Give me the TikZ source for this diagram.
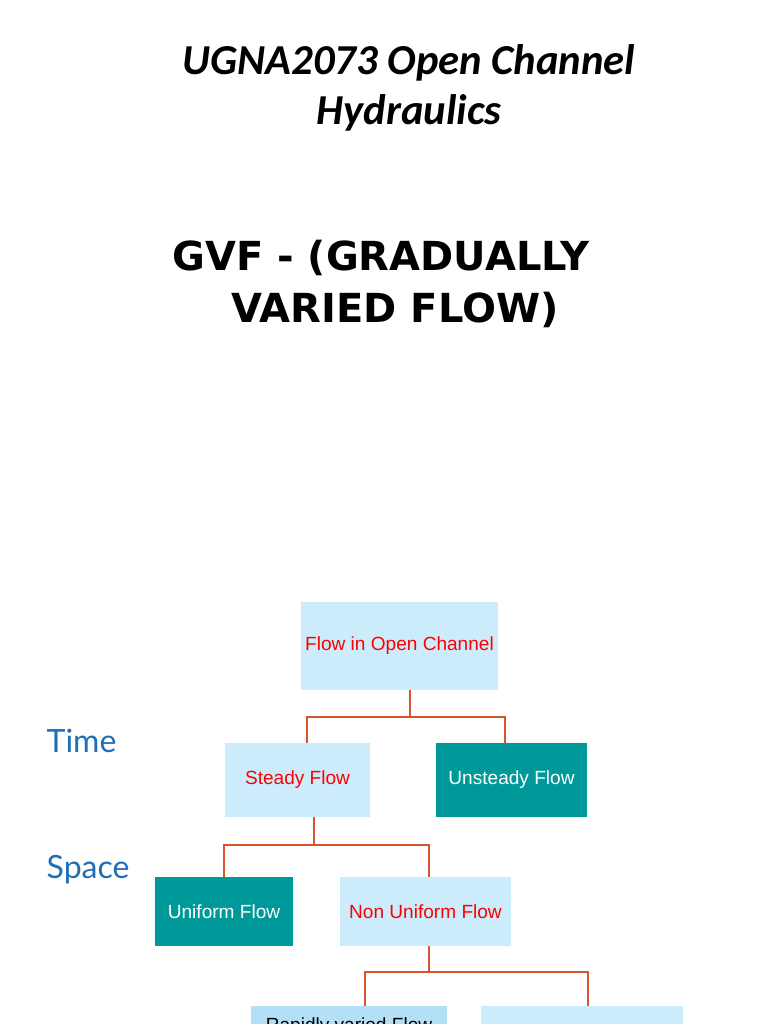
\documentclass[tikz,border=0pt]{standalone}
\usepackage{fontspec}
\setmainfont{Liberation Sans}
\newfontfamily\titlefont{Carlito}
\newfontfamily\gvffont{DejaVu Sans}
\newfontfamily\labfont{Lato}
\definecolor{lb}{HTML}{CCEBFB}
\definecolor{lb2}{HTML}{B3E0F7}
\definecolor{teal2}{HTML}{009999}
\definecolor{ln}{HTML}{D9542B}
\definecolor{tb}{HTML}{1F6FB5}
\tikzset{
 box/.style={draw=none,fill=lb,text=red,font=\fontsize{14.3}{17}\selectfont,inner sep=0pt},
 tbox/.style={draw=none,fill=teal2,text=white,font=\fontsize{14.3}{17}\selectfont,inner sep=0pt},
 conn/.style={draw=ln,line width=1pt},
 lab/.style={text=tb,font=\labfont\fontsize{24}{26}\selectfont,anchor=west}
}
\begin{document}
\begin{tikzpicture}[x=0.75pt,y=-0.75pt]
\clip (0,0) rectangle (768,1024);
\fill[white] (0,0) rectangle (768,1024);
\node[font=\titlefont\bfseries\itshape\fontsize{32}{37}\selectfont,align=center] (title) at (409,88) {UGNA2073 Open Channel\\Hydraulics};
\node[font=\gvffont\bfseries\fontsize{30}{39}\selectfont,align=center] (gvf) at (381,284) {GVF - (GRADUALLY\\\ \ VARIED FLOW)};
\node[lab] (time) at (42,741) {Time};
\node[lab] (space) at (42,870) {Space};
\node[box,minimum width=197*0.75pt,minimum height=88*0.75pt] (root) at (399.5,646) {Flow in Open Channel};
\node[box,minimum width=145*0.75pt,minimum height=74*0.75pt] (steady) at (297.5,780) {Steady Flow};
\node[tbox,minimum width=151*0.75pt,minimum height=74*0.75pt] (unsteady) at (511.5,780) {Unsteady Flow};
\node[tbox,minimum width=138*0.75pt,minimum height=69*0.75pt] (uniform) at (224,911.5) {Uniform Flow};
\node[box,minimum width=171*0.75pt,minimum height=69*0.75pt] (nonuni) at (425.5,911.5) {Non Uniform Flow};
\node[box,fill=lb2,text=black,minimum width=196*0.75pt,minimum height=60*0.75pt] (rapid) at (349,1036) {};
\node[text=black,font=\fontsize{14.3}{17}\selectfont] (rapidt) at (349,1027) {Rapidly varied Flow};
\node[box,minimum width=202*0.75pt,minimum height=60*0.75pt] (grad) at (582,1036) {};
\coordinate (j1) at (410,717);
\coordinate (j2) at (314,845);
\coordinate (j3) at (429,972);
\draw[conn] (root.south -| j1) -- (j1) (307,743) |- (j1) -| (505,743);
\draw[conn] (steady.south -| j2) -- (j2) (224,877) |- (j2) -| (429,877);
\draw[conn] (nonuni.south -| j3) -- (j3) (365,1006) |- (j3) -| (588,1006);
\end{tikzpicture}
\end{document}
